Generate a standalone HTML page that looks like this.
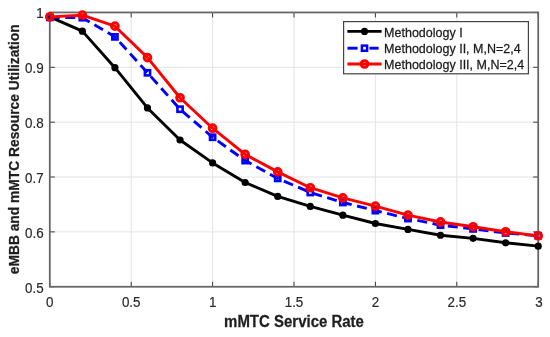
<!DOCTYPE html><html><head><meta charset="utf-8"><style>html,body{margin:0;padding:0;background:#fff}svg{display:block}text{font-family:"Liberation Sans",Arial,sans-serif}</style></head><body>
<svg width="550" height="337" viewBox="0 0 550 337">
<rect width="550" height="337" fill="#fff"/>
<line x1="131.20" y1="12.45" x2="131.20" y2="286.75" stroke="#e3e3e3" stroke-width="1"/>
<line x1="212.60" y1="12.45" x2="212.60" y2="286.75" stroke="#e3e3e3" stroke-width="1"/>
<line x1="294.00" y1="12.45" x2="294.00" y2="286.75" stroke="#e3e3e3" stroke-width="1"/>
<line x1="375.40" y1="12.45" x2="375.40" y2="286.75" stroke="#e3e3e3" stroke-width="1"/>
<line x1="456.80" y1="12.45" x2="456.80" y2="286.75" stroke="#e3e3e3" stroke-width="1"/>
<line x1="49.8" y1="231.89" x2="538.2" y2="231.89" stroke="#e3e3e3" stroke-width="1"/>
<line x1="49.8" y1="177.03" x2="538.2" y2="177.03" stroke="#e3e3e3" stroke-width="1"/>
<line x1="49.8" y1="122.17" x2="538.2" y2="122.17" stroke="#e3e3e3" stroke-width="1"/>
<line x1="49.8" y1="67.31" x2="538.2" y2="67.31" stroke="#e3e3e3" stroke-width="1"/>
<line x1="49.80" y1="286.75" x2="49.80" y2="281.75" stroke="#3a3a3a" stroke-width="1"/>
<line x1="49.80" y1="12.45" x2="49.80" y2="17.45" stroke="#3a3a3a" stroke-width="1"/>
<line x1="131.20" y1="286.75" x2="131.20" y2="281.75" stroke="#3a3a3a" stroke-width="1"/>
<line x1="131.20" y1="12.45" x2="131.20" y2="17.45" stroke="#3a3a3a" stroke-width="1"/>
<line x1="212.60" y1="286.75" x2="212.60" y2="281.75" stroke="#3a3a3a" stroke-width="1"/>
<line x1="212.60" y1="12.45" x2="212.60" y2="17.45" stroke="#3a3a3a" stroke-width="1"/>
<line x1="294.00" y1="286.75" x2="294.00" y2="281.75" stroke="#3a3a3a" stroke-width="1"/>
<line x1="294.00" y1="12.45" x2="294.00" y2="17.45" stroke="#3a3a3a" stroke-width="1"/>
<line x1="375.40" y1="286.75" x2="375.40" y2="281.75" stroke="#3a3a3a" stroke-width="1"/>
<line x1="375.40" y1="12.45" x2="375.40" y2="17.45" stroke="#3a3a3a" stroke-width="1"/>
<line x1="456.80" y1="286.75" x2="456.80" y2="281.75" stroke="#3a3a3a" stroke-width="1"/>
<line x1="456.80" y1="12.45" x2="456.80" y2="17.45" stroke="#3a3a3a" stroke-width="1"/>
<line x1="538.20" y1="286.75" x2="538.20" y2="281.75" stroke="#3a3a3a" stroke-width="1"/>
<line x1="538.20" y1="12.45" x2="538.20" y2="17.45" stroke="#3a3a3a" stroke-width="1"/>
<line x1="49.8" y1="286.75" x2="54.8" y2="286.75" stroke="#3a3a3a" stroke-width="1"/>
<line x1="538.2" y1="286.75" x2="533.2" y2="286.75" stroke="#3a3a3a" stroke-width="1"/>
<line x1="49.8" y1="231.89" x2="54.8" y2="231.89" stroke="#3a3a3a" stroke-width="1"/>
<line x1="538.2" y1="231.89" x2="533.2" y2="231.89" stroke="#3a3a3a" stroke-width="1"/>
<line x1="49.8" y1="177.03" x2="54.8" y2="177.03" stroke="#3a3a3a" stroke-width="1"/>
<line x1="538.2" y1="177.03" x2="533.2" y2="177.03" stroke="#3a3a3a" stroke-width="1"/>
<line x1="49.8" y1="122.17" x2="54.8" y2="122.17" stroke="#3a3a3a" stroke-width="1"/>
<line x1="538.2" y1="122.17" x2="533.2" y2="122.17" stroke="#3a3a3a" stroke-width="1"/>
<line x1="49.8" y1="67.31" x2="54.8" y2="67.31" stroke="#3a3a3a" stroke-width="1"/>
<line x1="538.2" y1="67.31" x2="533.2" y2="67.31" stroke="#3a3a3a" stroke-width="1"/>
<line x1="49.8" y1="12.45" x2="54.8" y2="12.45" stroke="#3a3a3a" stroke-width="1"/>
<line x1="538.2" y1="12.45" x2="533.2" y2="12.45" stroke="#3a3a3a" stroke-width="1"/>
<rect x="49.8" y="12.45" width="488.40000000000003" height="274.30" fill="none" stroke="#686868" stroke-width="1.8"/>
<text transform="translate(49.80,306.95) scale(0.925,1)" font-size="14.5" fill="#2a2a2a" stroke="#2a2a2a" stroke-width="0.2" text-anchor="middle">0</text>
<text transform="translate(131.20,306.95) scale(0.925,1)" font-size="14.5" fill="#2a2a2a" stroke="#2a2a2a" stroke-width="0.2" text-anchor="middle">0.5</text>
<text transform="translate(212.60,306.95) scale(0.925,1)" font-size="14.5" fill="#2a2a2a" stroke="#2a2a2a" stroke-width="0.2" text-anchor="middle">1</text>
<text transform="translate(294.00,306.95) scale(0.925,1)" font-size="14.5" fill="#2a2a2a" stroke="#2a2a2a" stroke-width="0.2" text-anchor="middle">1.5</text>
<text transform="translate(375.40,306.95) scale(0.925,1)" font-size="14.5" fill="#2a2a2a" stroke="#2a2a2a" stroke-width="0.2" text-anchor="middle">2</text>
<text transform="translate(456.80,306.95) scale(0.925,1)" font-size="14.5" fill="#2a2a2a" stroke="#2a2a2a" stroke-width="0.2" text-anchor="middle">2.5</text>
<text transform="translate(539.00,306.95) scale(0.925,1)" font-size="14.5" fill="#2a2a2a" stroke="#2a2a2a" stroke-width="0.2" text-anchor="middle">3</text>
<text transform="translate(43.6,292.75) scale(0.925,1)" font-size="14.5" fill="#2a2a2a" stroke="#2a2a2a" stroke-width="0.2" text-anchor="end">0.5</text>
<text transform="translate(43.6,237.89) scale(0.925,1)" font-size="14.5" fill="#2a2a2a" stroke="#2a2a2a" stroke-width="0.2" text-anchor="end">0.6</text>
<text transform="translate(43.6,183.03) scale(0.925,1)" font-size="14.5" fill="#2a2a2a" stroke="#2a2a2a" stroke-width="0.2" text-anchor="end">0.7</text>
<text transform="translate(43.6,128.17) scale(0.925,1)" font-size="14.5" fill="#2a2a2a" stroke="#2a2a2a" stroke-width="0.2" text-anchor="end">0.8</text>
<text transform="translate(43.6,73.31) scale(0.925,1)" font-size="14.5" fill="#2a2a2a" stroke="#2a2a2a" stroke-width="0.2" text-anchor="end">0.9</text>
<text transform="translate(43.6,18.45) scale(0.925,1)" font-size="14.5" fill="#2a2a2a" stroke="#2a2a2a" stroke-width="0.2" text-anchor="end">1</text>
<text transform="translate(294.00,326.6) scale(1.0,1.05)" x="0" y="0" font-size="15" font-weight="bold" fill="#1f1f1f" stroke="#1f1f1f" stroke-width="0.25" text-anchor="middle">mMTC Service Rate</text>
<text transform="translate(18.6,149.30) rotate(-90) scale(1,1.0)" x="0" y="0" font-size="13.8" font-weight="bold" fill="#1f1f1f" stroke="#1f1f1f" stroke-width="0.25" text-anchor="middle">eMBB and mMTC Resource Utilization</text>
<polyline points="49.80,16.84 82.36,31.16 114.92,67.69 147.48,107.91 180.04,140.00 212.60,162.93 245.16,182.52 277.72,196.40 310.28,206.38 342.84,215.21 375.40,223.50 407.96,229.42 440.52,235.24 473.08,238.36 505.64,242.81 538.20,246.15" fill="none" stroke="#000" stroke-width="2.9" stroke-linejoin="round"/>
<circle cx="49.80" cy="16.84" r="3.6" fill="#000"/>
<circle cx="82.36" cy="31.16" r="3.6" fill="#000"/>
<circle cx="114.92" cy="67.69" r="3.6" fill="#000"/>
<circle cx="147.48" cy="107.91" r="3.6" fill="#000"/>
<circle cx="180.04" cy="140.00" r="3.6" fill="#000"/>
<circle cx="212.60" cy="162.93" r="3.6" fill="#000"/>
<circle cx="245.16" cy="182.52" r="3.6" fill="#000"/>
<circle cx="277.72" cy="196.40" r="3.6" fill="#000"/>
<circle cx="310.28" cy="206.38" r="3.6" fill="#000"/>
<circle cx="342.84" cy="215.21" r="3.6" fill="#000"/>
<circle cx="375.40" cy="223.50" r="3.6" fill="#000"/>
<circle cx="407.96" cy="229.42" r="3.6" fill="#000"/>
<circle cx="440.52" cy="235.24" r="3.6" fill="#000"/>
<circle cx="473.08" cy="238.36" r="3.6" fill="#000"/>
<circle cx="505.64" cy="242.81" r="3.6" fill="#000"/>
<circle cx="538.20" cy="246.15" r="3.6" fill="#000"/>
<polyline points="49.80,17.39 82.36,17.66 114.92,36.86 147.48,72.80 180.04,109.22 212.60,137.26 245.16,160.57 277.72,178.40 310.28,192.50 342.84,202.49 375.40,210.60 407.96,218.56 440.52,225.14 473.08,228.87 505.64,232.99 538.20,235.73" fill="none" stroke="#0000ff" stroke-width="2.9" stroke-dasharray="10,5.5"/>
<rect x="47.20" y="14.79" width="5.2" height="5.2" fill="none" stroke="#0000ff" stroke-width="2.6"/>
<rect x="79.76" y="15.06" width="5.2" height="5.2" fill="none" stroke="#0000ff" stroke-width="2.6"/>
<rect x="112.32" y="34.26" width="5.2" height="5.2" fill="none" stroke="#0000ff" stroke-width="2.6"/>
<rect x="144.88" y="70.20" width="5.2" height="5.2" fill="none" stroke="#0000ff" stroke-width="2.6"/>
<rect x="177.44" y="106.62" width="5.2" height="5.2" fill="none" stroke="#0000ff" stroke-width="2.6"/>
<rect x="210.00" y="134.66" width="5.2" height="5.2" fill="none" stroke="#0000ff" stroke-width="2.6"/>
<rect x="242.56" y="157.97" width="5.2" height="5.2" fill="none" stroke="#0000ff" stroke-width="2.6"/>
<rect x="275.12" y="175.80" width="5.2" height="5.2" fill="none" stroke="#0000ff" stroke-width="2.6"/>
<rect x="307.68" y="189.90" width="5.2" height="5.2" fill="none" stroke="#0000ff" stroke-width="2.6"/>
<rect x="340.24" y="199.89" width="5.2" height="5.2" fill="none" stroke="#0000ff" stroke-width="2.6"/>
<rect x="372.80" y="208.00" width="5.2" height="5.2" fill="none" stroke="#0000ff" stroke-width="2.6"/>
<rect x="405.36" y="215.96" width="5.2" height="5.2" fill="none" stroke="#0000ff" stroke-width="2.6"/>
<rect x="437.92" y="222.54" width="5.2" height="5.2" fill="none" stroke="#0000ff" stroke-width="2.6"/>
<rect x="470.48" y="226.27" width="5.2" height="5.2" fill="none" stroke="#0000ff" stroke-width="2.6"/>
<rect x="503.04" y="230.39" width="5.2" height="5.2" fill="none" stroke="#0000ff" stroke-width="2.6"/>
<rect x="535.60" y="233.13" width="5.2" height="5.2" fill="none" stroke="#0000ff" stroke-width="2.6"/>
<polyline points="49.80,16.84 82.36,15.19 114.92,26.17 147.48,57.60 180.04,97.76 212.60,128.20 245.16,154.43 277.72,171.87 310.28,187.73 342.84,197.93 375.40,206.16 407.96,215.10 440.52,221.96 473.08,226.73 505.64,231.73 538.20,235.84" fill="none" stroke="#ff0000" stroke-width="2.9" stroke-linejoin="round"/>
<circle cx="49.80" cy="16.84" r="3.4" fill="none" stroke="#ff0000" stroke-width="2.9"/>
<circle cx="82.36" cy="15.19" r="3.4" fill="none" stroke="#ff0000" stroke-width="2.9"/>
<circle cx="114.92" cy="26.17" r="3.4" fill="none" stroke="#ff0000" stroke-width="2.9"/>
<circle cx="147.48" cy="57.60" r="3.4" fill="none" stroke="#ff0000" stroke-width="2.9"/>
<circle cx="180.04" cy="97.76" r="3.4" fill="none" stroke="#ff0000" stroke-width="2.9"/>
<circle cx="212.60" cy="128.20" r="3.4" fill="none" stroke="#ff0000" stroke-width="2.9"/>
<circle cx="245.16" cy="154.43" r="3.4" fill="none" stroke="#ff0000" stroke-width="2.9"/>
<circle cx="277.72" cy="171.87" r="3.4" fill="none" stroke="#ff0000" stroke-width="2.9"/>
<circle cx="310.28" cy="187.73" r="3.4" fill="none" stroke="#ff0000" stroke-width="2.9"/>
<circle cx="342.84" cy="197.93" r="3.4" fill="none" stroke="#ff0000" stroke-width="2.9"/>
<circle cx="375.40" cy="206.16" r="3.4" fill="none" stroke="#ff0000" stroke-width="2.9"/>
<circle cx="407.96" cy="215.10" r="3.4" fill="none" stroke="#ff0000" stroke-width="2.9"/>
<circle cx="440.52" cy="221.96" r="3.4" fill="none" stroke="#ff0000" stroke-width="2.9"/>
<circle cx="473.08" cy="226.73" r="3.4" fill="none" stroke="#ff0000" stroke-width="2.9"/>
<circle cx="505.64" cy="231.73" r="3.4" fill="none" stroke="#ff0000" stroke-width="2.9"/>
<circle cx="538.20" cy="235.84" r="3.4" fill="none" stroke="#ff0000" stroke-width="2.9"/>
<rect x="343.6" y="21.6" width="184.8" height="52.2" fill="#fff" stroke="#424242" stroke-width="1.2"/>
<line x1="347.4" y1="31.4" x2="381.6" y2="31.4" stroke="#000" stroke-width="2.9"/>
<circle cx="364.5" cy="31.4" r="3.6" fill="#000"/>
<text transform="translate(384.1,36.70) scale(0.962,1)" font-size="13" fill="#1a1a1a" stroke="#1a1a1a" stroke-width="0.25">Methodology I</text>
<line x1="347.5" y1="48.2" x2="357.6" y2="48.2" stroke="#0000ff" stroke-width="2.9"/>
<line x1="369.4" y1="48.2" x2="378.6" y2="48.2" stroke="#0000ff" stroke-width="2.9"/>
<rect x="361.9" y="45.6" width="5.2" height="5.2" fill="none" stroke="#0000ff" stroke-width="2.5"/>
<text transform="translate(384.1,53.10) scale(0.962,1)" font-size="13" fill="#1a1a1a" stroke="#1a1a1a" stroke-width="0.25">Methodology II, M,N=2,4</text>
<line x1="347.4" y1="64.0" x2="381.6" y2="64.0" stroke="#ff0000" stroke-width="2.9"/>
<circle cx="364.5" cy="64.0" r="3.4" fill="none" stroke="#ff0000" stroke-width="2.9"/>
<text transform="translate(384.1,69.20) scale(0.962,1)" font-size="13" fill="#1a1a1a" stroke="#1a1a1a" stroke-width="0.25">Methodology III, M,N=2,4</text>
</svg></body></html>
